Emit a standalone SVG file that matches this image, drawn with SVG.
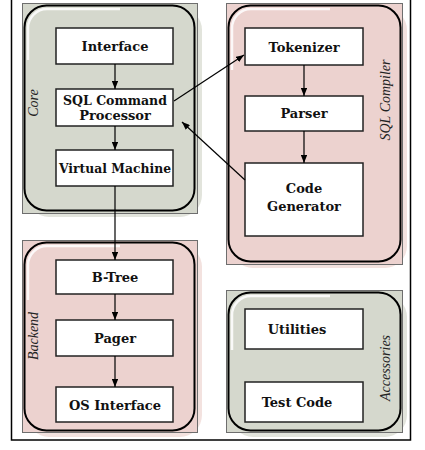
<svg xmlns="http://www.w3.org/2000/svg" width="425" height="450" viewBox="0 0 425 450">
<defs>
<style>
.frame{fill:#fff;stroke:#000;stroke-width:1.5}
.sq{stroke:#6e6e6e;stroke-width:1}
.g{fill:#d5d8cd}
.gs{fill:#e2e4dc}
.p{fill:#ecd2cf}
.ps{fill:#f3e2df}
.hl{fill:none;stroke:#fff;stroke-width:2.5;opacity:0.85}
.rr{fill:none;stroke:#000;stroke-width:2}
.box{fill:#fff;stroke:#222;stroke-width:1.5}
.t{font-family:"DejaVu Serif","Liberation Serif",serif;font-weight:bold;font-size:13px;text-anchor:middle;fill:#111}
.lbl{font-family:"Liberation Serif","DejaVu Serif",serif;font-style:italic;font-size:14px;text-anchor:middle;fill:#222}
.c{stroke:#000;stroke-width:1.2;fill:none}
</style>
<marker id="ah" viewBox="0 0 10 8" refX="10" refY="4" markerWidth="8" markerHeight="6.4" markerUnits="userSpaceOnUse" orient="auto">
<path d="M0,0 L10,4 L0,8 z" fill="#000"/>
</marker>
</defs>
<rect class="frame" x="11.5" y="-2" width="399" height="442"/>

<g id="core">
<rect class="gs" x="27" y="8" width="175" height="209" rx="22"/>
<rect class="sq g" x="22.5" y="3.5" width="175" height="210"/>
<path class="hl" d="M28,60 V28 A19,19 0 0 1 47,9 H120"/>
<rect class="rr" x="24.5" y="5.5" width="170" height="205" rx="22"/>
<text class="lbl" transform="translate(38,103) rotate(-90)">Core</text>
</g>
<g id="sqlcompiler">
<rect class="ps" x="231" y="8" width="176" height="260" rx="22"/>
<rect class="sq p" x="226.5" y="3.5" width="176" height="261"/>
<path class="hl" d="M232,70 V28 A19,19 0 0 1 251,9 H330"/>
<rect class="rr" x="228.5" y="5.5" width="172" height="256" rx="22"/>
<text class="lbl" transform="translate(390,100) rotate(-90)">SQL Compiler</text>
</g>
<g id="backend">
<rect class="ps" x="27" y="245" width="175" height="192" rx="22"/>
<rect class="sq p" x="22.5" y="240.5" width="175" height="192"/>
<path class="hl" d="M28,300 V265 A19,19 0 0 1 47,246 H120"/>
<rect class="rr" x="24.5" y="242.5" width="170" height="188" rx="22"/>
<text class="lbl" transform="translate(38,336) rotate(-90)">Backend</text>
</g>
<g id="accessories">
<rect class="gs" x="231" y="295" width="176" height="142" rx="22"/>
<rect class="sq g" x="226.5" y="290.5" width="176" height="142"/>
<path class="hl" d="M232,350 V315 A19,19 0 0 1 251,296 H330"/>
<rect class="rr" x="228.5" y="292.5" width="172" height="138" rx="22"/>
<text class="lbl" transform="translate(390,368) rotate(-90)">Accessories</text>
</g>

<g id="interface"><rect class="box" x="56" y="28" width="117" height="36"/><text class="t" x="115" y="51">Interface</text></g>
<g id="sqlcmd"><rect class="box" x="56" y="89" width="117" height="37"/><text class="t" x="115" y="105" textLength="104" lengthAdjust="spacingAndGlyphs">SQL Command</text><text class="t" x="115" y="120">Processor</text></g>
<g id="vm"><rect class="box" x="56" y="150" width="117" height="36"/><text class="t" x="115" y="173" textLength="112" lengthAdjust="spacingAndGlyphs">Virtual Machine</text></g>
<g id="tokenizer"><rect class="box" x="245" y="28" width="118" height="37"/><text class="t" x="304" y="52">Tokenizer</text></g>
<g id="parser"><rect class="box" x="245" y="96" width="118" height="35"/><text class="t" x="304" y="118">Parser</text></g>
<g id="codegen"><rect class="box" x="245" y="163" width="118" height="73"/><text class="t" x="304" y="193">Code</text><text class="t" x="304" y="211">Generator</text></g>
<g id="btree"><rect class="box" x="56" y="260" width="117" height="34"/><text class="t" x="115" y="282">B-Tree</text></g>
<g id="pager"><rect class="box" x="56" y="320" width="117" height="36"/><text class="t" x="115" y="343">Pager</text></g>
<g id="osinterface"><rect class="box" x="56" y="387" width="117" height="35"/><text class="t" x="115" y="410">OS Interface</text></g>
<g id="utilities"><rect class="box" x="245" y="309" width="118" height="40"/><text class="t" x="297" y="334">Utilities</text></g>
<g id="testcode"><rect class="box" x="245" y="382" width="118" height="40"/><text class="t" x="297" y="407">Test Code</text></g>

<g id="connectors">
<line class="c" x1="115" y1="64" x2="115" y2="89" marker-end="url(#ah)"/>
<line class="c" x1="115" y1="126" x2="115" y2="150" marker-end="url(#ah)"/>
<line class="c" x1="115" y1="186" x2="115" y2="260" marker-end="url(#ah)"/>
<line class="c" x1="115" y1="294" x2="115" y2="320" marker-end="url(#ah)"/>
<line class="c" x1="115" y1="356" x2="115" y2="387" marker-end="url(#ah)"/>
<line class="c" x1="304" y1="65" x2="304" y2="96" marker-end="url(#ah)"/>
<line class="c" x1="304" y1="131" x2="304" y2="163" marker-end="url(#ah)"/>
<line class="c" x1="174" y1="101" x2="244" y2="55" marker-end="url(#ah)"/>
<line class="c" x1="245" y1="180" x2="182" y2="122" marker-end="url(#ah)"/>
</g>
</svg>
